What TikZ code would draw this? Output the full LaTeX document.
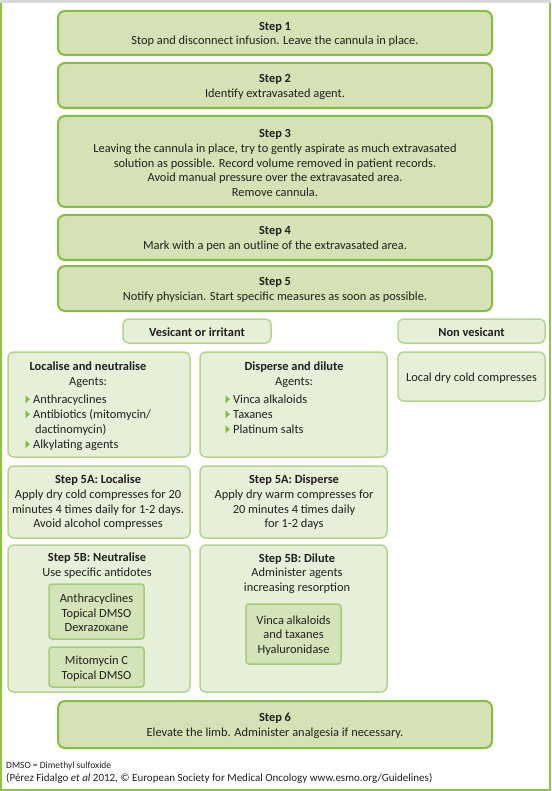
\documentclass[tikz,border=0pt]{standalone}
\usepackage{fontspec}
\setmainfont{Carlito}
\newfontfamily\dejavu{DejaVu Sans}
\usetikzlibrary{fit}
\definecolor{stepfill}{HTML}{D4E2B6}
\definecolor{stepline}{HTML}{86BC3F}
\definecolor{lowfill}{HTML}{E6EFD8}
\definecolor{lowline}{HTML}{B5D48E}
\definecolor{innerfill}{HTML}{D3E4B8}
\definecolor{innerline}{HTML}{A6CB76}
\definecolor{txt}{HTML}{231F20}
\definecolor{framecol}{HTML}{8DC63F}
\definecolor{band}{HTML}{D9D9D9}
\newcommand{\bul}{\makebox[7.5pt][l]{\color{stepline}\dejavu\fontsize{11}{11}\selectfont\raisebox{0.3pt}{\scalebox{0.55}[0.95]{▶}}}}
\begin{document}
\begin{tikzpicture}[x=1pt,y=-1pt,
  every node/.style={text=txt},
  main/.style={font=\fontsize{12.4}{14.7}\selectfont},
  stepbox/.style={draw=stepline, fill=stepfill, line width=2pt, rounded corners=7pt, inner sep=0pt},
  lowbox/.style={draw=lowline, fill=lowfill, line width=1.5pt, rounded corners=6pt, inner sep=0pt},
  innerbox/.style={draw=innerline, fill=innerfill, line width=1.5pt, rounded corners=3pt, inner sep=0pt},
  tx/.style={main, align=center, inner sep=0pt, yshift=-1.5pt},
  lft/.style={main, anchor=base west, inner sep=0pt},
  ctr/.style={main, anchor=base, inner sep=0pt}]
\useasboundingbox (0,0) rectangle (551,791);
% frame
\fill[band] (0,0) rectangle (551,3);
\fill[framecol] (0,3) rectangle (2,791);
\fill[framecol] (549,3) rectangle (551,791);
\fill[framecol] (0,789) rectangle (551,791);

% main steps
\node[stepbox, fit={(58,11) (492,55)}] (s1) {};
\node[tx] (t1) at (s1.center) {\textbf{Step 1}\\Stop and disconnect infusion. Leave the cannula in place.};
\node[stepbox, fit={(58,63) (492,108)}] (s2) {};
\node[tx] (t2) at (s2.center) {\textbf{Step 2}\\Identify extravasated agent.};
\node[stepbox, fit={(58,116) (492,207)}] (s3) {};
\node[tx] (t3) at (s3.center) {\textbf{Step 3}\\Leaving the cannula in place, try to gently aspirate as much extravasated\\solution as possible. Record volume removed in patient records.\\Avoid manual pressure over the extravasated area.\\Remove cannula.};
\node[stepbox, fit={(58,215) (492,260)}] (s4) {};
\node[tx] (t4) at (s4.center) {\textbf{Step 4}\\Mark with a pen an outline of the extravasated area.};
\node[stepbox, fit={(58,266) (492,311)}] (s5) {};
\node[tx] (t5) at (s5.center) {\textbf{Step 5}\\Notify physician. Start specific measures as soon as possible.};

% categories
\node[lowbox, fit={(123,319) (271,343)}] (ves) {};
\node[tx] (tves) at (ves.center) {\textbf{Vesicant or irritant}};
\node[lowbox, fit={(398,319) (545,343)}] (nves) {};
\node[tx] (tnves) at (nves.center) {\textbf{Non vesicant}};

% localise and neutralise
\node[lowbox, fit={(8,352) (190,457)}] (loc) {};
\node[ctr] (loct) at (88,370) {\textbf{Localise and neutralise}};
\node[ctr] (loca) at (88,385) {Agents:};
\node[lft] (locb1) at (25.5,403) {\bul Anthracyclines};
\node[lft] (locb2) at (25.5,418) {\bul Antibiotics (mitomycin/};
\node[lft] (locb3) at (33,433) {\hspace{2pt}dactinomycin)};
\node[lft] (locb4) at (25.5,448) {\bul Alkylating agents};

% disperse and dilute
\node[lowbox, fit={(200,352) (387,457)}] (dis) {};
\node[ctr] (dist) at (294,370) {\textbf{Disperse and dilute}};
\node[ctr] (disa) at (294,385) {Agents:};
\node[lft] (disb1) at (225.5,403) {\bul Vinca alkaloids};
\node[lft] (disb2) at (225.5,418) {\bul Taxanes};
\node[lft] (disb3) at (225.5,433) {\bul Platinum salts};

% local dry cold
\node[lowbox, fit={(398,352) (545,401)}] (ldc) {};
\node[tx] (tldc) at (ldc.center) {Local dry cold compresses};

% step 5A
\node[lowbox, fit={(8,466) (190,538)}] (s5al) {};
\node[tx] (ts5al) at (98,501) {\textbf{Step 5A: Localise}\\Apply dry cold compresses for 20\\minutes 4 times daily for 1-2 days.\\Avoid alcohol compresses};
\node[lowbox, fit={(200,466) (387,538)}] (s5ad) {};
\node[tx] (ts5ad) at (294,501) {\textbf{Step 5A: Disperse}\\Apply dry warm compresses for\\20 minutes 4 times daily\\for 1-2 days};

% step 5B neutralise
\node[lowbox, fit={(8,545) (190,692)}] (s5bn) {};
\node[tx] (ts5bn) at (97,564) {\textbf{Step 5B: Neutralise}\\Use specific antidotes};
\node[innerbox, fit={(49,584) (144,639)}] (ant) {};
\node[tx] (tant) at (ant.center) {Anthracyclines\\Topical DMSO\\Dexrazoxane};
\node[innerbox, fit={(49,647) (144,687)}] (mit) {};
\node[tx] (tmit) at (mit.center) {Mitomycin C\\Topical DMSO};

% step 5B dilute
\node[lowbox, fit={(200,545) (387,692)}] (s5bd) {};
\node[tx] (ts5bd) at (297,572) {\textbf{Step 5B: Dilute}\\Administer agents\\increasing resorption};
\node[innerbox, fit={(246,604) (341,664)}] (vin) {};
\node[tx] (tvin) at (vin.center) {Vinca alkaloids\\and taxanes\\Hyaluronidase};

% step 6
\node[stepbox, fit={(58,701) (492,748)}] (s6) {};
\node[tx] (t6) at (s6.center) {\textbf{Step 6}\\Elevate the limb. Administer analgesia if necessary.};

% footnotes
\node[font=\fontsize{9.5}{12}\selectfont, anchor=base west, inner sep=0pt] (fn1) at (6,768) {DMSO = Dimethyl sulfoxide};
\node[font=\fontsize{11}{12}\selectfont, anchor=base west, inner sep=0pt] (fn2) at (6,781) {(Pérez Fidalgo \textit{et al} 2012, © European Society for Medical Oncology www.esmo.org/Guidelines)};
\end{tikzpicture}
\end{document}
